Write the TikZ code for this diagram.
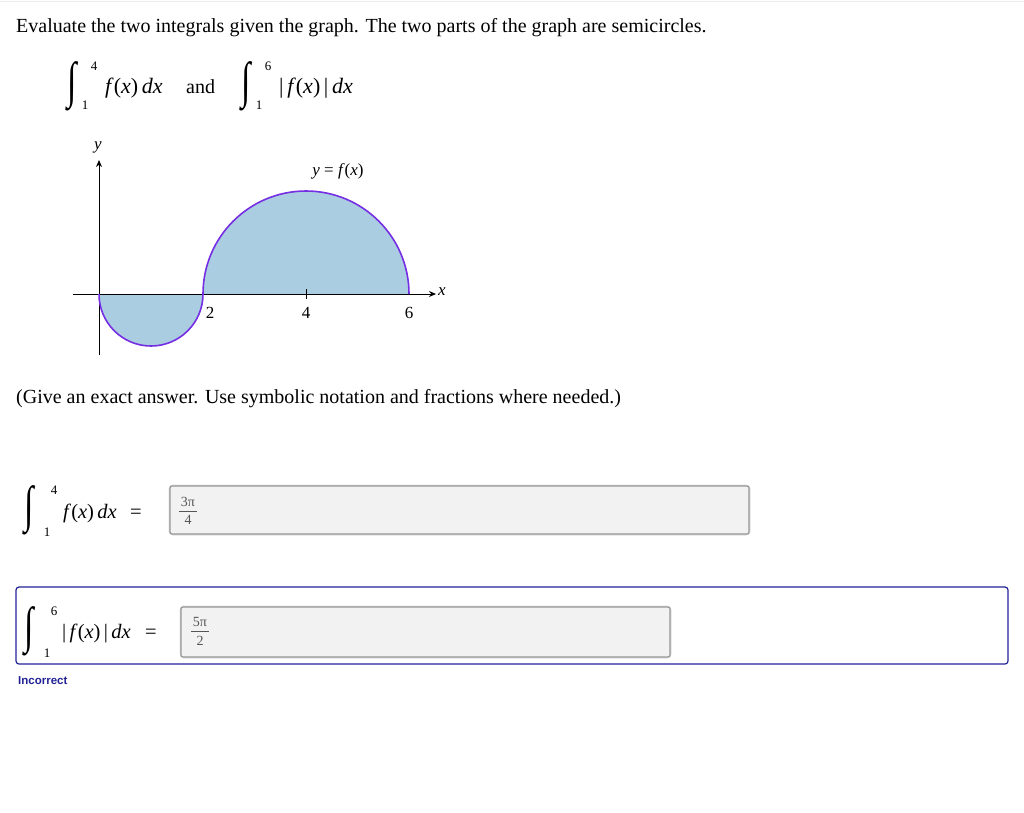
\documentclass[tikz,border=0pt]{standalone}
\usepackage{fontspec}
\setmainfont{Liberation Serif}
\newfontfamily\uisans{Liberation Sans}
\usetikzlibrary{arrows.meta}
\definecolor{fillblue}{RGB}{170,205,226}
\definecolor{curvepurple}{RGB}{118,46,226}
\definecolor{navy}{RGB}{34,34,150}
\definecolor{boxfill}{RGB}{242,242,242}
\definecolor{boxline}{RGB}{150,150,150}
\definecolor{fracgray}{RGB}{85,85,85}
\newcommand{\bigint}{\scalebox{0.95}[1.4]{∫}}
\tikzset{
  txt/.style={anchor=base west, inner sep=0pt, font=\fontsize{20}{22}\selectfont},
  mtxt/.style={anchor=base west, inner sep=0pt, font=\fontsize{22}{24}\selectfont},
  atxt/.style={anchor=base west, inner sep=0pt, font=\fontsize{20.5}{23}\selectfont},
  intsign/.style={inner sep=0pt, font=\fontsize{36}{38}\selectfont},
  lim/.style={inner sep=0pt, font=\fontsize{13}{15}\selectfont},
  axis/.style={line width=1pt, -{Stealth[length=7pt,width=6pt]}},
  curve/.style={draw=curvepurple, line width=1.6pt},
  region/.style={fill=fillblue},
  ansbox/.style={draw=boxline, fill=boxfill, line width=1.2pt, rounded corners=2pt},
  ansshadow/.style={draw=black!12, line width=3pt, rounded corners=3pt},
  fracpart/.style={inner sep=0pt, text=fracgray, font=\fontsize{14}{16}\selectfont},
  fracbar/.style={draw=fracgray, line width=0.8pt},
}
\begin{document}
\begin{tikzpicture}[x=1pt,y=-1pt]
\useasboundingbox (0,0) rectangle (1024,812);
\draw[black!8, line width=1pt] (0,1) -- (1024,1);
% title
\node[txt] (title) at (16,32) {Evaluate the two integrals given the graph. The two parts of the graph are semicircles.};
% integrals row
\node[intsign] (i1) at (72,86) {\bigint};
\node[lim] (i1u) at (94,66) {4};
\node[lim] (i1l) at (85,105) {1};
\node[mtxt] (i1f) at (105,93) {\textit{f}(\textit{x})\,\textit{dx}};
\node[txt] (and) at (186,93) {and};
\node[intsign] (i2) at (246,86) {\bigint};
\node[lim] (i2u) at (268,66) {6};
\node[lim] (i2l) at (259,105) {1};
\node[mtxt] (i2f) at (279,93) {|\,\textit{f}(\textit{x})\,|\,\textit{dx}};
% graph
\coordinate (O) at (99,294);
\coordinate (X2) at (203,294);
\coordinate (X6) at (409,294);
\coordinate (xs) at (73,294);
\coordinate (xe) at (436,294);
\coordinate (ys) at (99,355);
\coordinate (ye) at (99,160);
\fill[region] (O) arc[start angle=180, end angle=0, radius=52] -- cycle;
\fill[region] (X2) arc[start angle=180, end angle=360, radius=103] -- cycle;
\draw[axis] (xs) -- (xe);
\draw[axis] (ys) -- (ye);
\draw[line width=1pt] (306,289) -- (306,299);
\draw[curve] (O) arc[start angle=180, end angle=0, radius=52];
\draw[curve] (X2) arc[start angle=180, end angle=360, radius=103];
\node[inner sep=0pt, font=\fontsize{17}{19}\selectfont\itshape] (ylab) at (98,147) {y};
\node[inner sep=0pt, font=\fontsize{17}{19}\selectfont\itshape] (xlab) at (442,292) {x};
\node[inner sep=0pt, font=\fontsize{17}{19}\selectfont] (t2) at (210,313) {2};
\node[inner sep=0pt, font=\fontsize{17}{19}\selectfont] (t4) at (306,313) {4};
\node[inner sep=0pt, font=\fontsize{17}{19}\selectfont] (t6) at (409,313) {6};
\node[inner sep=0pt, font=\fontsize{17}{19}\selectfont] (flab) at (338,171) {\textit{y} = \textit{f}(\textit{x})};
% instruction
\node[txt] (give) at (16,403) {(Give an exact answer. Use symbolic notation and fractions where needed.)};
% answer 1
\node[intsign] (a1) at (29,510) {\bigint};
\node[lim] (a1u) at (54,490) {4};
\node[lim] (a1l) at (47,532) {1};
\node[atxt] (a1f) at (63,518) {\textit{f}(\textit{x})\,\textit{dx}};
\node[atxt] (a1e) at (130,518) {=};
\draw[ansshadow] (170,486) rectangle (749,534);
\draw[ansbox] (170,486) rectangle (749,534);
\node[fracpart] (a1n) at (188,502) {3π};
\node[fracpart] (a1d) at (188,520) {4};
\draw[fracbar] (179,511) -- (197,511);
% answer 2
\draw[navy, line width=1.2pt, rounded corners=3pt] (16,587) rectangle (1008,664);
\node[intsign] (a2) at (29,631) {\bigint};
\node[lim] (a2u) at (54,611) {6};
\node[lim] (a2l) at (47,653) {1};
\node[atxt] (a2f) at (62,638) {|\,\textit{f}(\textit{x})\,|\,\textit{dx}};
\node[atxt] (a2e) at (145,638) {=};
\draw[ansshadow] (181,607) rectangle (670,657);
\draw[ansbox] (181,607) rectangle (670,657);
\node[fracpart] (a2n) at (200,622) {5π};
\node[fracpart] (a2d) at (200,641) {2};
\draw[fracbar] (191,631) -- (209,631);
\node[anchor=base west, inner sep=0pt, text=navy, font=\uisans\bfseries\fontsize{11.5}{13}\selectfont] (inc) at (18,684) {Incorrect};
\end{tikzpicture}
\end{document}
